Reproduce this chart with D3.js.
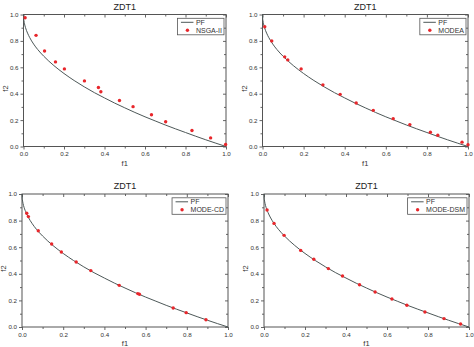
<!DOCTYPE html>
<html>
<head>
<meta charset="utf-8">
<script src="https://cdn.jsdelivr.net/npm/d3@7"></script>
<style>
  html, body { margin: 0; padding: 0; background: #fff; }
  svg { display: block; font-family: Arial, "Liberation Sans", sans-serif; }
</style>
</head>
<body>
<svg id="chart" width="474" height="347"></svg>
<script>
// ---------- data ----------
const panelTitles = ["ZDT1", "ZDT1", "ZDT1", "ZDT1"];
const seriesNames = ["NSGA-II", "MODEA", "MODE-CD", "MODE-DSM"];
const pfName = "PF";
const xLabel = "f1";
const yLabel = "f2";
const majorTicks = [0, 0.2, 0.4, 0.6, 0.8, 1.0];
const minorTicks = [0.1, 0.3, 0.5, 0.7, 0.9];

// true Pareto front (PF)
const pfF1 = [0, 0.001, 0.002, 0.005, 0.01, 0.02, 0.03, 0.05, 0.07, 0.1, 0.15, 0.2, 0.25, 0.3, 0.35, 0.4, 0.45, 0.5, 0.55, 0.6, 0.65, 0.7, 0.75, 0.8, 0.85, 0.9, 0.95, 1.0];
const pfF2 = [1, 0.968, 0.955, 0.929, 0.9, 0.859, 0.827, 0.776, 0.735, 0.684, 0.613, 0.553, 0.5, 0.452, 0.408, 0.368, 0.329, 0.293, 0.258, 0.225, 0.194, 0.163, 0.134, 0.106, 0.078, 0.051, 0.025, 0];

const nsgaF1 = [0.008, 0.062, 0.104, 0.158, 0.202, 0.301, 0.370, 0.382, 0.474, 0.541, 0.632, 0.702, 0.832, 0.924, 0.998];
const nsgaF2 = [0.975, 0.842, 0.724, 0.641, 0.588, 0.497, 0.447, 0.415, 0.349, 0.302, 0.241, 0.188, 0.121, 0.065, 0.015];

const modeaF1 = [0.011, 0.045, 0.108, 0.123, 0.188, 0.294, 0.378, 0.456, 0.539, 0.636, 0.717, 0.817, 0.853, 0.971, 1.0];
const modeaF2 = [0.907, 0.800, 0.679, 0.656, 0.588, 0.467, 0.395, 0.329, 0.274, 0.211, 0.166, 0.108, 0.085, 0.033, 0.013];

const modeCdF1 = [0.023, 0.031, 0.079, 0.144, 0.191, 0.263, 0.334, 0.472, 0.562, 0.570, 0.734, 0.797, 0.893];
const modeCdF2 = [0.855, 0.830, 0.724, 0.624, 0.564, 0.489, 0.424, 0.313, 0.251, 0.246, 0.143, 0.108, 0.055];

const modeDsmF1 = [0.015, 0.049, 0.098, 0.179, 0.243, 0.314, 0.383, 0.466, 0.542, 0.624, 0.697, 0.785, 0.878, 0.959];
const modeDsmF2 = [0.880, 0.779, 0.689, 0.576, 0.509, 0.439, 0.383, 0.318, 0.263, 0.211, 0.163, 0.113, 0.063, 0.023];

const seriesF1 = [nsgaF1, modeaF1, modeCdF1, modeDsmF1];
const seriesF2 = [nsgaF2, modeaF2, modeCdF2, modeDsmF2];

// ---------- layout ----------
const panels = [
  { x0: 23.5, x1: 226,   y0: 14.5, y1: 146.5 },
  { x0: 262.5, x1: 468,  y0: 14.5, y1: 146.5 },
  { x0: 22,   x1: 228,   y0: 194,  y1: 327 },
  { x0: 264,  x1: 469,   y0: 194,  y1: 327 }
];

const frameColor = "#555";
const textColor = "#333";
const pfColor = "#4d5858";
const ptColor = "#e8262b";

const svg = d3.select("#chart");
const fmt = d3.format(".1f");

panels.forEach((p, i) => {
  const g = svg.append("g");
  const x = d3.scaleLinear().domain([0, 1]).range([p.x0, p.x1]);
  const y = d3.scaleLinear().domain([0, 1]).range([p.y1, p.y0]);

  // ticks: outward on bottom/left, inward on top/right
  const styleAxis = (sel, showLabels) => {
    sel.select(".domain").remove();
    sel.selectAll(".tick line").attr("stroke", frameColor).attr("stroke-width", 0.9);
    if (!showLabels) sel.selectAll(".tick text").remove();
    else sel.selectAll(".tick text").attr("fill", textColor).attr("font-size", 6.2);
  };

  g.append("g").attr("transform", `translate(0,${p.y1})`)
    .call(d3.axisBottom(x).tickValues(majorTicks).tickFormat(fmt).tickSize(3).tickPadding(2.5))
    .call(s => styleAxis(s, true));
  g.append("g").attr("transform", `translate(0,${p.y1})`)
    .call(d3.axisBottom(x).tickValues(minorTicks).tickSize(2))
    .call(s => styleAxis(s, false));
  g.append("g").attr("transform", `translate(${p.x0},0)`)
    .call(d3.axisLeft(y).tickValues(majorTicks).tickFormat(fmt).tickSize(3).tickPadding(2))
    .call(s => styleAxis(s, true));
  g.append("g").attr("transform", `translate(${p.x0},0)`)
    .call(d3.axisLeft(y).tickValues(minorTicks).tickSize(2))
    .call(s => styleAxis(s, false));
  g.append("g").attr("transform", `translate(0,${p.y0})`)
    .call(d3.axisTop(x).tickValues(majorTicks).tickSize(-3))
    .call(s => styleAxis(s, false));
  g.append("g").attr("transform", `translate(0,${p.y0})`)
    .call(d3.axisTop(x).tickValues(minorTicks).tickSize(-2))
    .call(s => styleAxis(s, false));
  g.append("g").attr("transform", `translate(${p.x1},0)`)
    .call(d3.axisRight(y).tickValues(majorTicks).tickSize(-3))
    .call(s => styleAxis(s, false));
  g.append("g").attr("transform", `translate(${p.x1},0)`)
    .call(d3.axisRight(y).tickValues(minorTicks).tickSize(-2))
    .call(s => styleAxis(s, false));

  // frame
  g.append("rect")
    .attr("x", p.x0).attr("y", p.y0)
    .attr("width", p.x1 - p.x0).attr("height", p.y1 - p.y0)
    .attr("fill", "none").attr("stroke", frameColor).attr("stroke-width", 1);

  // PF curve
  const pfData = pfF1.map((v, k) => [v, pfF2[k]]);
  g.append("path")
    .datum(pfData)
    .attr("fill", "none")
    .attr("stroke", pfColor)
    .attr("stroke-width", 1)
    .attr("d", d3.line().x(d => x(d[0])).y(d => y(d[1])).curve(d3.curveMonotoneX));

  // points
  const pts = seriesF1[i].map((v, k) => [v, seriesF2[i][k]]);
  g.selectAll("circle.pt").data(pts).enter().append("circle")
    .attr("class", "pt")
    .attr("cx", d => x(d[0])).attr("cy", d => y(d[1]))
    .attr("r", 1.7).attr("fill", ptColor);

  // title
  g.append("text")
    .attr("x", (p.x0 + p.x1) / 2).attr("y", p.y0 - 5)
    .attr("text-anchor", "middle").attr("font-size", 9).attr("fill", "#222")
    .text(panelTitles[i]);

  // axis labels
  g.append("text")
    .attr("x", (p.x0 + p.x1) / 2).attr("y", p.y1 + 19)
    .attr("text-anchor", "middle").attr("font-size", 7.5).attr("fill", textColor)
    .text(xLabel);
  g.append("text")
    .attr("transform", `translate(${p.x0 - 16},${(p.y0 + p.y1) / 2 + 8}) rotate(-90)`)
    .attr("text-anchor", "middle").attr("font-size", 7.5).attr("fill", textColor)
    .text(yLabel);

  // legend
  const leg = g.append("g");
  const t1 = leg.append("text").attr("font-size", 7).attr("fill", textColor).text(pfName);
  const t2 = leg.append("text").attr("font-size", 7).attr("fill", textColor).text(seriesNames[i]);
  const tw = Math.max(t1.node().getComputedTextLength(), t2.node().getComputedTextLength());
  const bw = 18.5 + tw + 2;
  const bx = p.x1 - 2 - bw;
  const by = p.y0 + 3.8;
  const bh = 16.5;
  leg.insert("rect", "text")
    .attr("x", bx).attr("y", by).attr("width", bw).attr("height", bh)
    .attr("fill", "#fff").attr("stroke", frameColor).attr("stroke-width", 0.8);
  leg.append("line")
    .attr("x1", bx + 3.5).attr("x2", bx + 16).attr("y1", by + 4).attr("y2", by + 4)
    .attr("stroke", pfColor).attr("stroke-width", 1);
  leg.append("circle")
    .attr("cx", bx + 10).attr("cy", by + 12).attr("r", 1.7).attr("fill", ptColor);
  t1.attr("x", bx + 18.5).attr("y", by + 6.5);
  t2.attr("x", bx + 18.5).attr("y", by + 14.5);
});
</script>
</body>
</html>
